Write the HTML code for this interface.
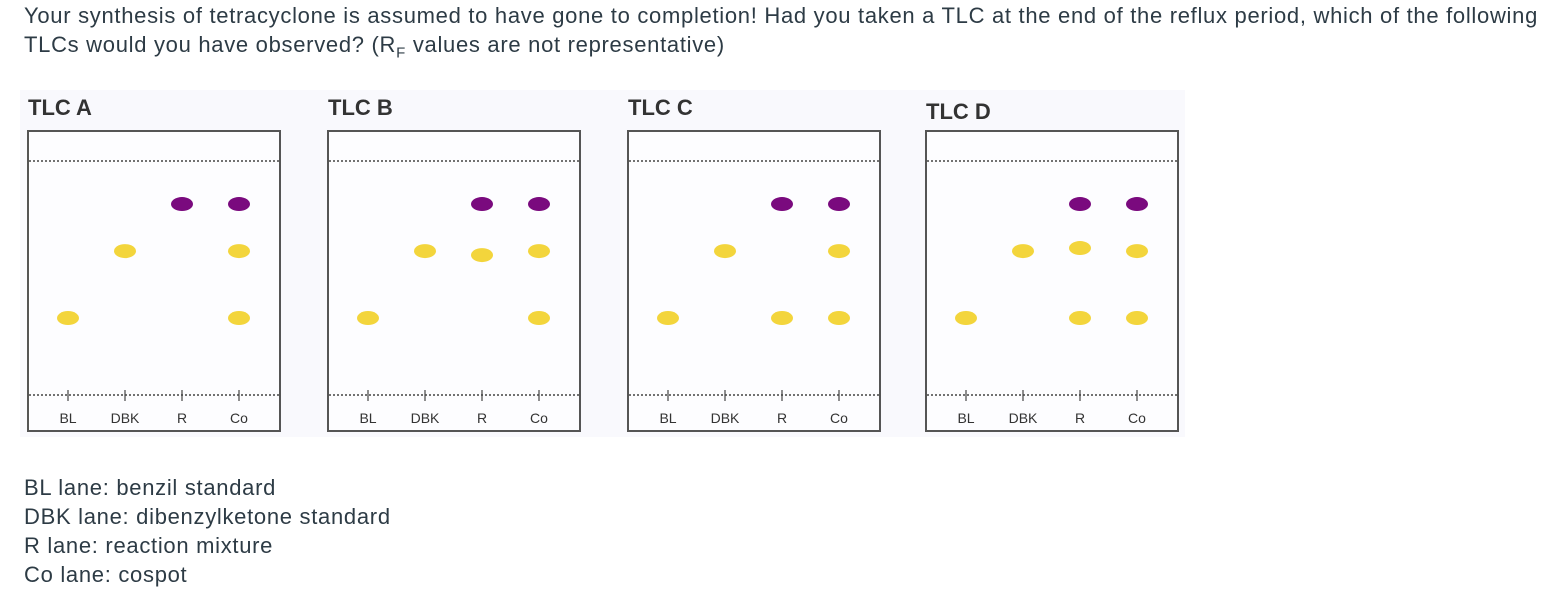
<!DOCTYPE html>
<html><head><meta charset="utf-8"><style>
body{margin:0;width:1548px;height:593px;background:#fff;font-family:"Liberation Sans",sans-serif;color:#2d3b45;position:relative;overflow:hidden}
.q{position:absolute;left:24px;top:1px;font-size:22px;letter-spacing:0.7px;line-height:29px;width:1524px;white-space:nowrap}
.legend{position:absolute;left:24px;top:473px;font-size:22px;letter-spacing:0.7px;line-height:29px}
svg{position:absolute;left:0;top:0}
</style></head><body>
<div class="q">Your synthesis of tetracyclone is assumed to have gone to completion! Had you taken a TLC at the end of the reflux period, which of the following<br>TLCs would you have observed? (R<sub style="font-size:15px">F</sub> values are not representative)</div>
<svg id="chart" width="1548" height="593"></svg>
<div class="legend">
<div>BL lane: benzil standard</div>
<div>DBK lane: dibenzylketone standard</div>
<div>R lane: reaction mixture</div>
<div>Co lane: cospot</div>
</div>
<script>
const plates=["TLC A","TLC B","TLC C","TLC D"];
const lanes=["BL","DBK","R","Co"];
const spotsA=[[0,0.329,"y"],[1,0.615,"y"],[2,0.816,"p"],[3,0.816,"p"],[3,0.615,"y"],[3,0.329,"y"]];
const spotsB=[[0,0.329,"y"],[1,0.615,"y"],[2,0.598,"y"],[2,0.816,"p"],[3,0.816,"p"],[3,0.615,"y"],[3,0.329,"y"]];
const spotsC=[[0,0.329,"y"],[1,0.615,"y"],[2,0.816,"p"],[2,0.329,"y"],[3,0.816,"p"],[3,0.615,"y"],[3,0.329,"y"]];
const spotsD=[[0,0.329,"y"],[1,0.615,"y"],[2,0.816,"p"],[2,0.628,"y"],[2,0.329,"y"],[3,0.816,"p"],[3,0.615,"y"],[3,0.329,"y"]];
const allSpots=[spotsA,spotsB,spotsC,spotsD];
const NS="http://www.w3.org/2000/svg";
const svg=document.getElementById('chart');
function mk(t,a,p){const e=document.createElementNS(NS,t);for(const k in a)e.setAttribute(k,a[k]);(p||svg).appendChild(e);return e;}
const bg=mk('rect',{x:20,y:90,width:1165,height:347,fill:'#f9f9fd'});


const plateX=[28,328,628,926];
const plateTop=131,frontY=161,baseY=395;
function yOf(rf){return baseY-rf*(baseY-frontY);}
function xOf(p,l){return plateX[p]+40+l*57;}
plates.forEach((name,p)=>{
  const g=mk('g',{});
  
  
  const t=mk('text',{x:plateX[p],y:p==3?119:115,'font-size':22,'font-weight':'bold','font-family':'Liberation Sans, sans-serif',fill:'#333'},g);
  t.textContent=name;
  
  
  const r=mk('rect',{x:plateX[p],y:plateTop,width:252,height:300,fill:'#fdfdff',stroke:'#555','stroke-width':2},g);
  
  
  const f=mk('line',{x1:plateX[p]+1,x2:plateX[p]+251,y1:frontY,y2:frontY,stroke:'#444','stroke-width':1.5,'stroke-dasharray':'2 2'},g);
  
  
  const b=mk('line',{x1:plateX[p]+1,x2:plateX[p]+251,y1:baseY,y2:baseY,stroke:'#444','stroke-width':1.5,'stroke-dasharray':'2 2'},g);
  
  
  lanes.forEach((ln,l)=>{
    const x=xOf(p,l);
    const tk=mk('line',{x1:x,x2:x,y1:baseY-5,y2:baseY+6,stroke:'#444','stroke-width':1.2},g);
    
    
    const lt=mk('text',{x:x,y:423,'font-size':14,'text-anchor':'middle','font-family':'Liberation Sans, sans-serif',fill:'#333'},g);
    lt.textContent=ln;
    
    
  });
  allSpots[p].forEach(s=>{
    const e=mk('ellipse',{cx:xOf(p,s[0]),cy:yOf(s[1]),rx:11,ry:7,fill:s[2]=='p'?'#7a0a7e':'#f3d53c'},g);
    
    
  });
});
</script>
</body></html>
